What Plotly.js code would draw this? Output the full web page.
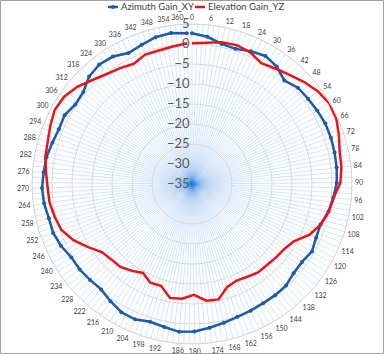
<!DOCTYPE html>
<html>
<head>
<meta charset="utf-8">
<script src="https://cdn.plot.ly/plotly-3.0.1.min.js"></script>
<style>html,body{margin:0;padding:0;background:#fff;}#chart{width:384px;height:354px;}</style>
</head>
<body>
<div id="chart"></div>
<script>
// Angles (degrees) at which the gains were read
const degrees = [0,6,12,18,24,30,36,42,48,54,60,66,72,78,84,90,96,102,108,114,120,126,132,138,144,150,156,162,168,174,180,186,192,198,204,210,216,222,228,234,240,246,252,258,264,270,276,282,288,294,300,306,312,318,324,330,336,342,348,354,360];
// Azimuth Gain_XY (dB)
const azimuthGain = [2.7,2.0,0.8,0.5,1.3,1.9,1.2,-0.3,0.8,1.0,1.3,1.6,1.6,1.5,1.4,1.2,0.5,-0.2,-1.3,-1.2,-0.6,-1.3,-1.2,-0.4,-0.3,-0.3,-0.1,0.1,0.6,1.2,1.9,2.1,1.4,1.0,1.7,1.6,0.7,-0.2,0.0,0.3,0.3,1.2,1.8,1.8,2.3,2.5,2.2,2.0,1.4,1.0,1.2,0.3,0.6,2.2,2.8,2.5,1.4,2.0,2.8,3.1,2.7];
// Elevation Gain_YZ (dB)
const elevationGain = [0.2,0.5,1.2,1.5,1.0,-0.2,0.6,1.6,2.9,4.1,4.8,4.6,3.7,2.8,2.6,2.1,0.6,-0.1,-1.2,-3.0,-5.8,-6.8,-7.1,-7.4,-7.4,-8.0,-8.4,-7.8,-5.4,-5.6,-7.3,-6.2,-6.0,-8.4,-8.2,-9.6,-8.6,-7.6,-7.4,-6.8,-4.6,-2.2,-0.4,0.3,0.9,1.1,1.6,2.3,2.6,3.3,4.0,3.7,2.6,1.0,-0.2,-0.9,-1.6,-0.6,-0.6,-0.3,0.2];
// Radial tick values
const radialTicks = [-35,-30,-25,-20,-15,-10,-5,0,5];
// Series names and colours
const seriesNames = ['Azimuth Gain_XY', 'Elevation Gain_YZ'];
const seriesColors = ['#1f5aa6', '#e8161c'];
// Angular categories (every 2 degrees, labelled every 6)
const categoryStep = 2, labelStep = 6;
const categories = [];
for (let d = 0; d <= 360; d += categoryStep) categories.push(String(d));
const nb = '\u00a0';
const tickText = categories.map(c => {
  const d = Number(c);
  if (d % labelStep !== 0) return '';
  // the last label sits just left of 0, as in the original (right-anchored)
  return d === 360 ? c + nb.repeat(10) : c;
});

const thetaCats = degrees.map(String);

const traces = [
  {
    type: 'scatterpolar', mode: 'lines+markers', name: seriesNames[0],
    theta: thetaCats, r: azimuthGain,
    line: {color: seriesColors[0], width: 2.5},
    marker: {color: seriesColors[0], size: 4, symbol: 'circle'}
  },
  {
    type: 'scatterpolar', mode: 'lines', name: seriesNames[1],
    theta: thetaCats, r: elevationGain,
    line: {color: seriesColors[1], width: 2.5}
  }
];

const W = 384, H = 354, ml = 32, mr = 32, mt = 24, mb = 10;
const pw = W - ml - mr, ph = H - mt - mb;
const px = x => (x - ml) / pw;          // page pixel -> paper x
const py = y => (H - mb - y) / ph;      // page pixel -> paper y

// custom legend (short line symbols like the original)
const legendY = 7;
const legendItems = [
  {x0: 108, x1: 118, tx: 119, marker: true},
  {x0: 195, x1: 205, tx: 206, marker: false}
];
const shapes = [{
  type: 'rect', xref: 'paper', yref: 'paper', layer: 'above',
  x0: px(0.5), x1: px(W - 0.5), y0: py(H - 0.5), y1: py(0.5),
  line: {color: '#a0a0a0', width: 1}
}];
const annotations = [];
legendItems.forEach((it, i) => {
  shapes.push({type: 'line', xref: 'paper', yref: 'paper',
    x0: px(it.x0), x1: px(it.x1), y0: py(legendY), y1: py(legendY),
    line: {color: seriesColors[i], width: 2.5}});
  if (it.marker) {
    const mx = (it.x0 + it.x1) / 2;
    shapes.push({type: 'circle', xref: 'paper', yref: 'paper',
      x0: px(mx - 2), x1: px(mx + 2), y0: py(legendY + 2), y1: py(legendY - 2),
      fillcolor: seriesColors[i], line: {color: seriesColors[i], width: 0}});
  }
  annotations.push({xref: 'paper', yref: 'paper', x: px(it.tx), y: py(legendY),
    xanchor: 'left', yanchor: 'middle', showarrow: false, text: seriesNames[i],
    font: {size: 9.5, color: '#404040'}});
});

const layout = {
  width: W, height: H,
  margin: {l: ml, r: mr, t: mt, b: mb, pad: 0, autoexpand: false},
  paper_bgcolor: '#ffffff',
  font: {family: 'Lato, "Liberation Sans", sans-serif', color: '#404040'},
  showlegend: false,
  polar: {
    domain: {x: [0, 1], y: [0, 1]},
    bgcolor: 'rgba(0,0,0,0)',
    angularaxis: {
      type: 'category', categoryorder: 'array', categoryarray: categories,
      rotation: 90, direction: 'clockwise',
      tickmode: 'array', tickvals: categories, ticktext: tickText,
      ticks: 'outside', ticklen: 1, tickcolor: 'rgba(0,0,0,0)',
      showline: true, linecolor: '#d0d0d0', linewidth: 1,
      showgrid: true, gridcolor: 'rgba(40,125,220,0.2)', gridwidth: 1,
      tickfont: {size: 7, color: '#404040'}
    },
    radialaxis: {
      range: [-35, 5], tickmode: 'array', tickvals: radialTicks,
      ticksuffix: nb.repeat(9),
      angle: 90, side: 'counterclockwise', tickangle: 90,
      showline: false, ticks: '',
      showgrid: true, gridcolor: '#d9d9d9', gridwidth: 1,
      tickfont: {size: 13, color: '#595959'}
    }
  },
  shapes: shapes,
  annotations: annotations
};

Plotly.newPlot('chart', traces, layout, {staticPlot: true, displayModeBar: false});
</script>
</body>
</html>
